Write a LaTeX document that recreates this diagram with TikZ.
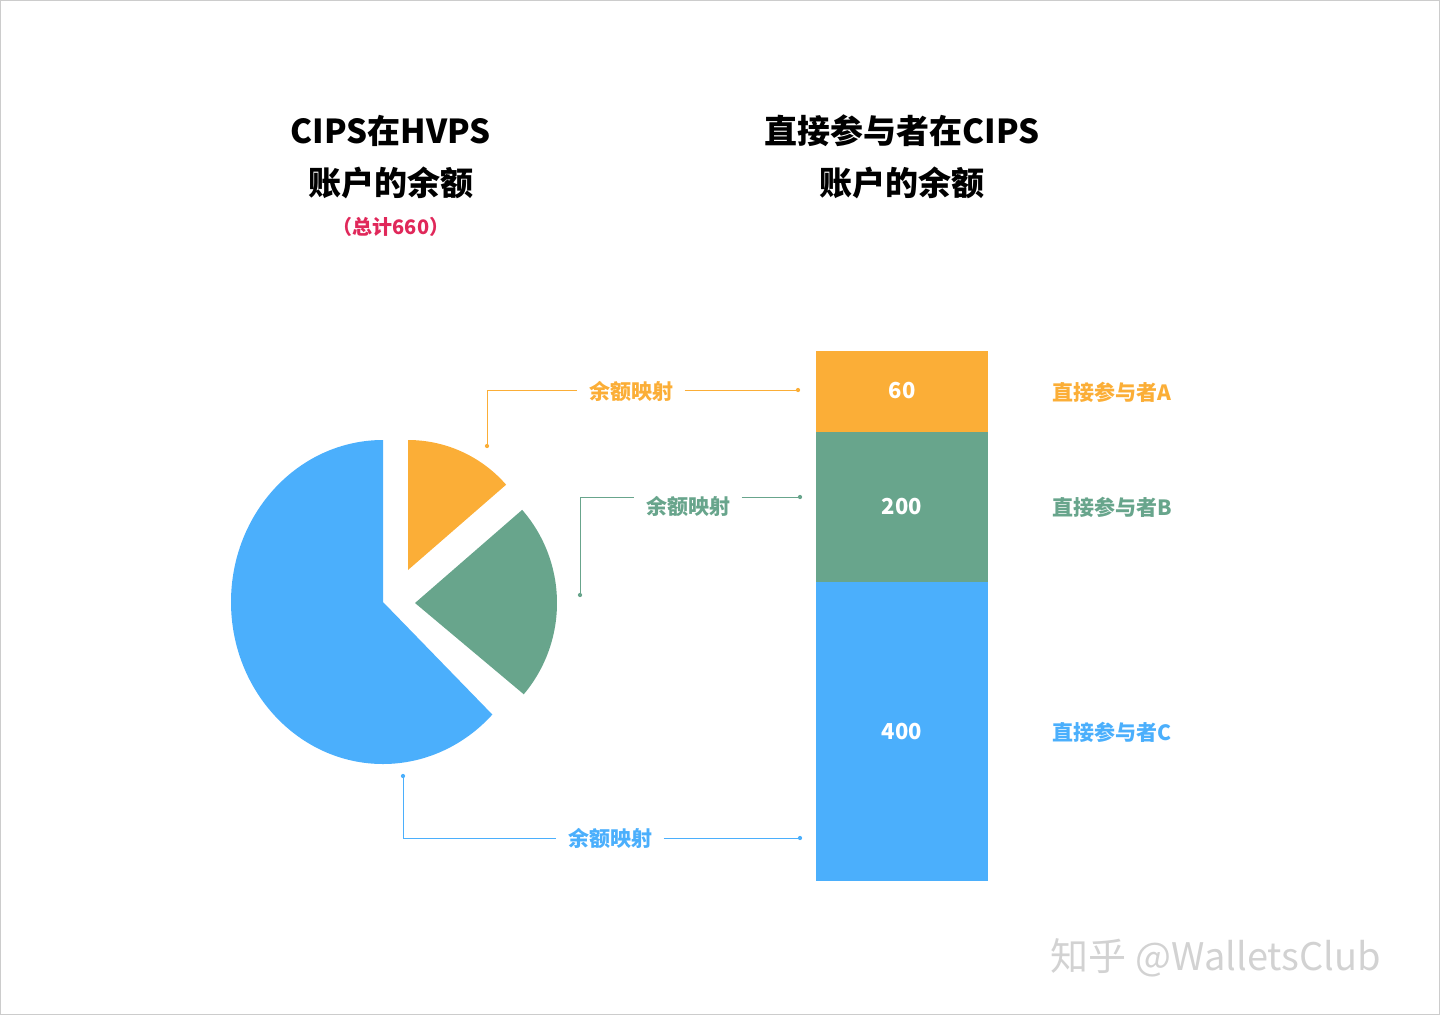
\documentclass[tikz,border=0pt]{standalone}
\usepackage{fontspec}
\setmainfont{Noto Sans CJK SC}
\definecolor{cor}{HTML}{FBAE37}
\definecolor{cgr}{HTML}{68A58C}
\definecolor{cbl}{HTML}{4BAFFC}
\definecolor{cred}{HTML}{E0285A}
\tikzset{x=1pt,y=-1pt,
 title/.style={font=\fontsize{33}{52}\selectfont\bfseries,align=center},
 lab/.style={font=\fontsize{21}{24}\selectfont\bfseries},
 val/.style={font=\fontsize{22}{24}\selectfont\bfseries,text=white},
 conn/.style={line width=0.7pt},
 dotc/.style={circle,fill,inner sep=1.5pt}}
\begin{document}
\begin{tikzpicture}
\useasboundingbox (0,0) rectangle (1440,1015);
\draw[gray!40] (0.5,0.5) rectangle (1439.5,1014.5);
% titles
\node[title] (t1) at (391,157) {CIPS在HVPS\\账户的余额};
\node[font=\fontsize{20}{24}\selectfont\bfseries,text=cred] (t1s) at (391,227) {（总计660）};
\node[title] (t2) at (902,157) {直接参与者在CIPS\\账户的余额};
% pie
\begin{scope}[shift={(383,602)},yscale=-1]
\fill[cbl] (0,0) -- (90:162) arc[start angle=90,end angle=316,x radius=152,y radius=162] -- cycle;
\fill[cor] (25,32) -- ++(90:130) arc[start angle=90,end angle=41,radius=130] -- cycle;
\fill[cgr] (32,-1) -- ++(41:142) arc[start angle=41,end angle=-40,radius=142] -- cycle;
\end{scope}
% bars
\fill[cor] (816,351) rectangle (988,432);
\fill[cgr] (816,432) rectangle (988,582);
\fill[cbl] (816,582) rectangle (988,881);
\node[val] (v1) at (902,391) {60};
\node[val] (v2) at (902,507) {200};
\node[val] (v3) at (902,732) {400};
\node[lab,text=cor] (pa) at (1112,392) {直接参与者A};
\node[lab,text=cgr] (pb) at (1112,507) {直接参与者B};
\node[lab,text=cbl] (pc) at (1112,732) {直接参与者C};
% connectors
\node[lab,text=cor] (m1) at (631,391) {余额映射};
\node[lab,text=cgr] (m2) at (688,506) {余额映射};
\node[lab,text=cbl] (m3) at (610,838) {余额映射};
\node[dotc,cor] (a1) at (487,446) {};
\node[dotc,cor] (b1) at (798,390) {};
\node[dotc,cgr] (a2) at (580,595) {};
\node[dotc,cgr] (b2) at (800,497) {};
\node[dotc,cbl] (a3) at (403,776) {};
\node[dotc,cbl] (b3) at (800,838) {};
\draw[conn,cor] (a1) |- ([xshift=-8pt]m1.west |- b1);
\draw[conn,cor] ([xshift=8pt]m1.east |- b1) -- (b1);
\draw[conn,cgr] (a2) |- ([xshift=-8pt]m2.west |- b2);
\draw[conn,cgr] ([xshift=8pt]m2.east |- b2) -- (b2);
\draw[conn,cbl] (a3) |- ([xshift=-8pt]m3.west |- b3);
\draw[conn,cbl] ([xshift=8pt]m3.east |- b3) -- (b3);
% watermark
\node[font=\fontsize{38}{40}\selectfont,text=gray!35] (wm) at (1216,958) {知乎 @WalletsClub};
\end{tikzpicture}
\end{document}
